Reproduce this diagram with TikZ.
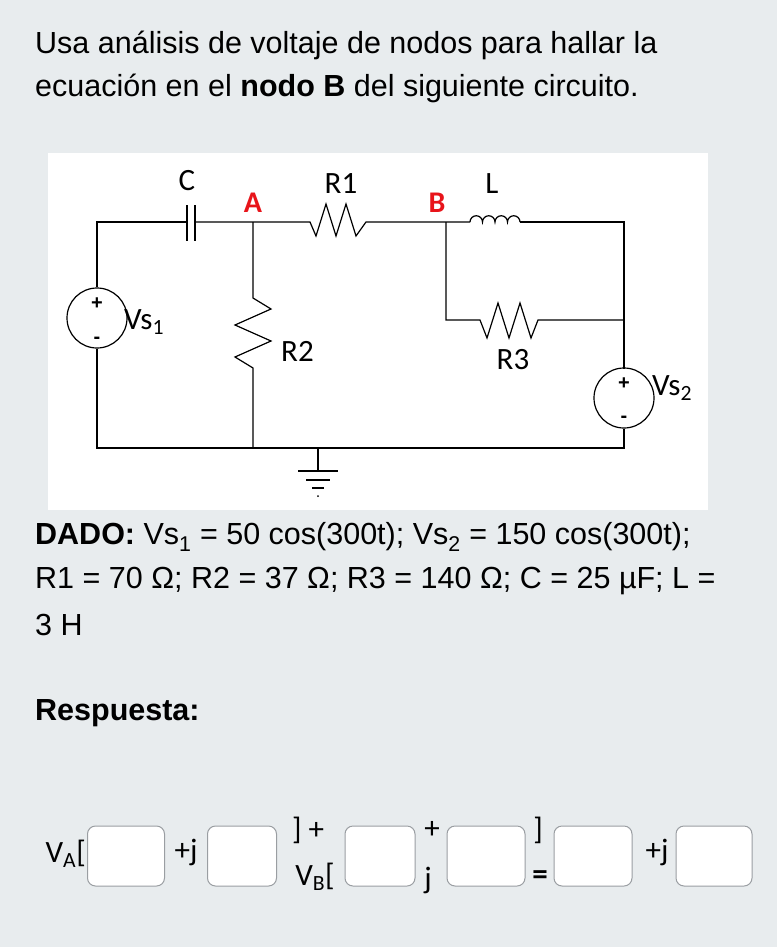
\documentclass[tikz,border=0pt]{standalone}
\usepackage{fontspec}
\setmainfont{Liberation Sans}
\newfontfamily\circfont{Carlito}
\definecolor{bg}{HTML}{E8ECEE}
\definecolor{boxline}{HTML}{9A9EA2}
\definecolor{nodered}{HTML}{E8141A}
\begin{document}
\begin{tikzpicture}[x=1pt,y=-1pt,
  wire/.style={line width=1.2pt},
  txt/.style={anchor=west,inner sep=0,font=\fontsize{30.5}{34}\selectfont},
  eq/.style={inner sep=0,font=\circfont\fontsize{31}{34}\selectfont},
  lab/.style={inner sep=0,font=\circfont\fontsize{31}{34}\selectfont},
  pm/.style={inner sep=0,font=\bfseries\fontsize{20}{20}\selectfont},
  ansbox/.style={draw=boxline,fill=white,rounded corners=8pt,line width=1pt,minimum height=60pt,inner sep=0}]
\fill[bg] (0,0) rectangle (777,947);
\useasboundingbox (0,0) rectangle (777,947);
\node[txt] (t1) at (35,45) {Usa análisis de voltaje de nodos para hallar la};
\node[txt] (t2) at (35,88) {ecuación en el \textbf{nodo B} del siguiente circuito.};
\fill[white] (48,153) rectangle (708,510);
\coordinate (TL) at (97,222);
\coordinate (A) at (253,222);
\coordinate (B) at (446,222);
\coordinate (TR) at (624,222);
\coordinate (BL) at (97,448);
\coordinate (BA) at (253,448);
\coordinate (BR) at (624,448);
\coordinate (G) at (318,448);
% Vs1
\node[draw,circle,wire,minimum size=60pt,inner sep=0] (vs1) at (97,318) {};
\node[pm] (p1) at (97,304) {+};
\node[pm] (m1) at (97,340) {-};
\node[lab,anchor=west] (lvs1) at (124,322) {Vs\textsubscript{1}};
\draw[wire] (vs1.north) -- (TL) -- (187,222);
\draw[wire] (187,205) -- (187,241) (195,205) -- (195,241);
\draw[wire] (195,222) -- (A) -- (310,222) -- (316,236) -- (326,204) -- (336,236) -- (346,204) -- (356,236) -- (366,222) -- (B) -- (470,222);
\draw[wire] (470,222) \foreach \i in {0,1,2,3} { arc[start angle=180,end angle=360,radius=6.25] };
\draw[wire] (520,222) -- (TR) -- (624,369);
\node[lab] (lc) at (187,181) {C};
\node[lab,text=nodered,font=\circfont\bfseries\fontsize{30}{32}\selectfont] (la) at (253,203) {A};
\node[lab] (lr1) at (341,184) {R1};
\node[lab,text=nodered,font=\circfont\bfseries\fontsize{30}{32}\selectfont] (lb) at (437,203) {B};
\node[lab] (ll) at (492,184) {L};
% R2
\draw[wire] (A) -- (253,298) -- (271,309) -- (235,325) -- (271,341) -- (235,357) -- (253,368) -- (BA);
\node[lab,anchor=west] (lr2) at (281,351) {R2};
% R3
\draw[wire] (B) -- (446,320) -- (480,320) -- (487,338) -- (498,303) -- (509,338) -- (520,303) -- (531,338) -- (538,320) -- (624,320);
\node[lab] (lr3) at (513,360) {R3};
% Vs2
\node[draw,circle,wire,minimum size=60pt,inner sep=0] (vs2) at (624,398) {};
\node[pm] (p2) at (624,384) {+};
\node[pm] (m2) at (624,419) {-};
\node[lab,anchor=west] (lvs2) at (652,388) {Vs\textsubscript{2}};
\draw[wire] (vs2.south) -- (BR) -- (BL) -- (vs1.south);
% ground
\draw[wire] (G) -- (318,471) (298,471) -- (338,471) (306,480) -- (330,480) (312,488) -- (324,488);
\fill (318,496) circle (1pt);
% data
\node[txt] (d1) at (35,537) {\textbf{DADO:} Vs\textsubscript{1} = 50 cos(300t); Vs\textsubscript{2} = 150 cos(300t);};
\node[txt] (d2) at (35,581) {R1 = 70 Ω; R2 = 37 Ω; R3 = 140 Ω; C = 25 µF; L =};
\node[txt] (d3) at (35,625) {3 H};
\node[txt] (resp) at (35,713) {\textbf{Respuesta:}};
% equation
\node[ansbox,minimum width=77pt] (b1) at (126,856) {};
\node[ansbox,minimum width=69pt] (b2) at (242,856) {};
\node[ansbox,minimum width=70pt] (b3) at (380,856) {};
\node[ansbox,minimum width=78pt] (b4) at (486,856) {};
\node[ansbox,minimum width=78pt] (b5) at (593,856) {};
\node[ansbox,minimum width=76pt] (b6) at (714,856) {};
\node[eq,anchor=east] (va) at ([xshift=-1pt,yshift=2pt]b1.west) {V\textsubscript{A}[};
\node[eq] (pj1) at (186,852) {+j};
\node[eq] (rb1) at (308,830) {] +};
\node[eq] (vb) at (315,877) {V\textsubscript{B}[};
\node[eq] (pl) at (432,830) {+};
\node[eq] (jj) at (428,880) {j};
\node[eq] (rb2) at (538,830) {]};
\node[eq,font=\circfont\bfseries\fontsize{31}{34}\selectfont] (eqs) at (540,878) {=};
\node[eq] (pj2) at (657,852) {+j};
\end{tikzpicture}
\end{document}
